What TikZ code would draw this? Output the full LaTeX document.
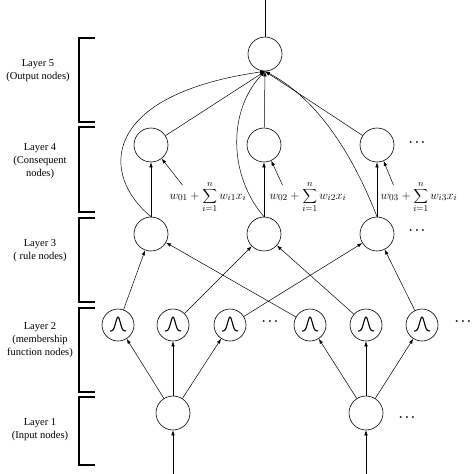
\documentclass[tikz,border=0pt]{standalone}
\usepackage{fontspec}
\setmainfont{Liberation Serif}
\usetikzlibrary{arrows.meta}
\tikzset{>={Latex[width=3.5pt,length=5pt]}}

\begin{document}
\begin{tikzpicture}[x=1pt, y=-1pt,
  neuron/.style={draw, circle, minimum size=34pt, inner sep=0pt, line width=0.6pt},
  mfnode/.style={neuron, minimum size=32pt,
    path picture={\draw[line width=1.1pt, shift={(path picture bounding box.center)}]
      plot[domain=-8:8, samples=40, smooth] (\x, {6-14*exp(-(\x/3.2)^2)});}},
  link/.style={->, line width=0.5pt},
  bracket/.style={line width=1.1pt},
  layertext/.style={align=center, font=\fontsize{10.5}{13}\selectfont},
  formula/.style={inner sep=1pt, font=\fontsize{12.5}{14}\selectfont},
  etc/.style={font=\fontsize{13}{14}\selectfont\boldmath}
  ]
  \useasboundingbox (0,0) rectangle (474,474);

  % layer brackets and labels
  \foreach \ya/\yb in {38/122, 127/212, 218/302, 308/392, 397/465}
    \draw[bracket] (95,\ya) -- (79,\ya) -- (79,\yb) -- (95,\yb);
  \node[layertext] (lab5) at (38,71)  {Layer 5\\(Output nodes)};
  \node[layertext] (lab4) at (40,161) {Layer 4\\(Consequent\\nodes)};
  \node[layertext] (lab3) at (40,251) {Layer 3\\( rule nodes)};
  \node[layertext] (lab2) at (40,340) {Layer 2\\(membership\\function nodes)};
  \node[layertext] (lab1) at (40,430) {Layer 1\\(Input nodes)};

  % nodes
  \node[neuron] (out) at (265,54) {};
  \foreach \n/\x in {1/151, 2/264, 3/377}{
    \node[neuron] (c\n) at (\x,145) {};
    \node[neuron] (r\n) at (\x,234) {};
  }
  \foreach \n/\x in {1/118, 2/173, 3/230, 4/310, 5/366, 6/422}
    \node[mfnode] (m\n) at (\x,325) {};
  \node[neuron] (i1) at (173,413) {};
  \node[neuron] (i2) at (366,413) {};

  \node[etc] (dots4) at (417,143) {$\cdots$};
  \node[etc] (dots3) at (417,231) {$\cdots$};
  \node[etc] (dots2a) at (270,322) {$\cdots$};
  \node[etc] (dots2b) at (463,322) {$\cdots$};
  \node[etc] (dots1) at (407,418) {$\cdots$};

  \coordinate (top) at (265,0);
  \coordinate (in1) at (173,474);
  \coordinate (in2) at (366,474);

  % layer 1 -> layer 2 -> layer 3 -> layer 4
  \draw[link] (in1) -- (i1);
  \draw[link] (in2) -- (i2);
  \foreach \a/\b in {i1/m1, i1/m2, i1/m3, i2/m4, i2/m5, i2/m6}
    \draw[link] (\a) -- (\b);
  \foreach \a/\b in {m1/r1, m2/r2, m3/r3, m4/r1, m5/r2, m6/r3}
    \draw[link] (\a) -- (\b);
  \foreach \n in {1,2,3}
    \draw[link] (r\n) -- (c\n);

  % into layer 5
  \draw[link] (c1) -- (out.south);
  \draw[link] (c2) -- (out.south);
  \draw[link] (c3) -- (out.south);
  \draw[link] (r1.north) .. controls (100,175) and (100,95) .. (out.south);
  \draw[link] (r2.north) .. controls (228,175) and (228,110) .. (out.south);
  \draw[link] (r3.north) .. controls (355,160) and (320,100) .. (out.south);
  \draw[line width=0.6pt] (out) -- (top);

  % consequent formulas
  \node[formula] (f1) at (208,197) {$\displaystyle w_{01}+\sum_{i=1}^{n} w_{i1}x_i$};
  \node[formula] (f2) at (308,197) {$\displaystyle w_{02}+\sum_{i=1}^{n} w_{i2}x_i$};
  \node[formula] (f3) at (419,197) {$\displaystyle w_{03}+\sum_{i=1}^{n} w_{i3}x_i$};
  \foreach \n in {1,2,3}
    \draw[link] ([xshift=14pt, yshift=-5pt]f\n.north west) -- (c\n);

\end{tikzpicture}
\end{document}
